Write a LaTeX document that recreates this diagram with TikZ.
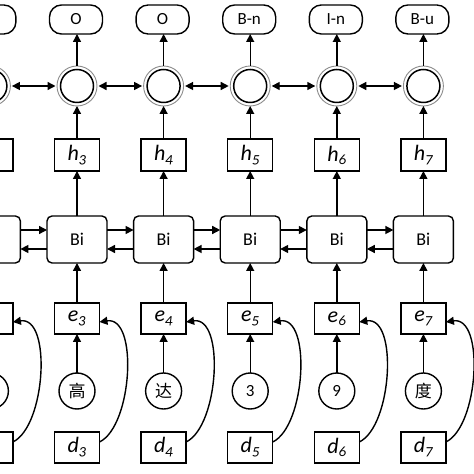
\documentclass[tikz,border=0pt]{standalone}
\usepackage{fontspec}
\setmainfont{Carlito}
\newfontfamily\cjk{Noto Sans CJK SC}
\usetikzlibrary{arrows.meta}
\newcommand{\vsub}[2]{\textit{#1}\raisebox{-3pt}{\fontsize{15}{15}\selectfont\itshape\addfontfeature{Numbers=OldStyle}#2}}
\begin{document}
\begin{tikzpicture}[x=1pt,y=1pt,
  every node/.style={inner sep=0pt, outer sep=0pt},
  lw/.style={line width=1.4pt},
  outbox/.style={draw, lw, rounded corners=12pt, minimum width=53pt, minimum height=29pt, font=\fontsize{17}{17}\selectfont},
  ring/.style={circle, draw=black!45, line width=0.9pt, minimum size=40pt},
  inring/.style={circle, draw, line width=1.5pt, minimum size=33pt},
  sqbox/.style={draw, lw, minimum width=45pt, minimum height=31pt, font=\fontsize{22}{22}\selectfont},
  bibox/.style={draw, lw, rounded corners=5pt, minimum width=60pt, minimum height=47pt, font=\fontsize{18}{18}\selectfont},
  word/.style={circle, draw, lw, minimum size=36pt, font=\fontsize{17}{17}\selectfont},
  arr/.style={lw, -{Triangle[length=8pt,width=8pt]}},
  darr/.style={lw, {Triangle[length=8pt,width=8pt]}-{Triangle[length=8pt,width=8pt]}, shorten <=1.5pt, shorten >=1.5pt}
]
\useasboundingbox (0,0) rectangle (474,474);
\fill[white] (0,0) rectangle (474,474);
\clip (0,0) rectangle (474,474);
\foreach \i/\o/\w in {2//,3/O/{\cjk 高},4/O/{\cjk 达},5/B-n/3,6/I-n/9,7/B-u/{\cjk 度}}{
  \pgfmathsetmacro\cx{77+(\i-3)*86.6}
  \node[outbox] (o\i) at (\cx-1,454.5) {\o};
  \node[ring] (r\i) at (\cx,388) {};
  \node[inring] at (r\i) {};
  \ifnum\i>2
    \node[sqbox, minimum height=32pt] (h\i) at (\cx,319) {\vsub{h}{\i}};
    \node[sqbox] (e\i) at (\cx,155.5) {\vsub{e}{\i}};
    \node[sqbox] (d\i) at (\cx,26.5) {\vsub{d}{\i}};
  \else
    \node[sqbox, minimum height=32pt] (h\i) at (\cx,319) {};
    \node[sqbox] (e\i) at (\cx,155.5) {};
    \node[sqbox] (d\i) at (\cx,26.5) {};
  \fi
  \node[bibox] (b\i) at (\cx,234.5) {\ifnum\i>2 Bi\fi};
  \node[word] (w\i) at (\cx,83) {\w};
  \draw[arr] (r\i) -- (o\i.south -| r\i);
  \draw[arr] (h\i) -- (r\i);
  \draw[arr] (b\i) -- (h\i);
  \draw[arr] (e\i) -- (b\i);
  \draw[arr] (w\i) -- (e\i);
  \draw[arr] ([yshift=5.5pt]d\i.east) .. controls +(33,16) and +(39,6) .. ([yshift=-3.5pt]e\i.east);
}
\foreach \i in {3,...,7}{
  \pgfmathtruncatemacro\j{\i-1}
  \draw[darr] (r\j) -- (r\i);
  \draw[arr] ([yshift=9.5pt]b\j.east) -- ([yshift=9.5pt]b\i.west);
  \draw[arr] ([yshift=-9.5pt]b\i.west) -- ([yshift=-9.5pt]b\j.east);
}
\end{tikzpicture}
\end{document}
